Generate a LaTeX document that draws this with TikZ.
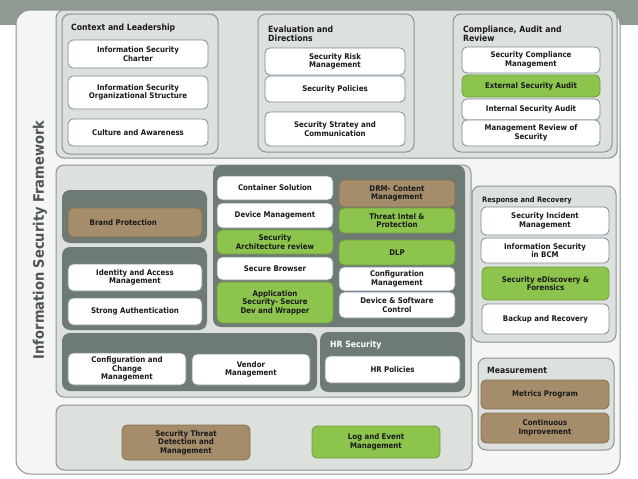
\documentclass[tikz,border=0pt]{standalone}
\usepackage{fontspec}
\setmainfont{DejaVu Sans}
\newfontfamily\cond{DejaVu Sans Condensed}
\usetikzlibrary{fit}
\definecolor{band}{HTML}{8F9A93}
\definecolor{frame}{HTML}{F4F5F4}
\definecolor{panel}{HTML}{DDE1DE}
\definecolor{pline}{HTML}{8A958F}
\definecolor{dark}{HTML}{6E7B74}
\definecolor{bline}{HTML}{7D8A97}
\definecolor{grn}{HTML}{8DC44E}
\definecolor{brn}{HTML}{A58C6A}
\definecolor{txt}{HTML}{1A1A1A}
\tikzset{
 panel/.style={draw=pline, line width=1pt, fill=panel, rounded corners=8pt, inner sep=0pt},
 dk/.style={fill=dark, rounded corners=8pt, inner sep=0pt},
 bx/.style={draw=bline, line width=0.8pt, fill=white, rounded corners=5pt, inner sep=0pt, align=center, font=\cond\bfseries\fontsize{7.8}{8.6}\selectfont, text=txt},
 gb/.style={bx, fill=grn, draw=grn!80!black},
 bb/.style={bx, fill=brn, draw=brn!80!black},
 ttl/.style={anchor=west, font=\cond\bfseries\fontsize{8.6}{9.4}\selectfont, text=txt, align=left, inner sep=0pt},
}
\newcommand\bxx[7]{\node[#6, fit={(#2,#3) (#4,#5)}] (#1) {}; \node[#6, draw=none, fill=none] at (#1.center) (#1t) {#7};}
\begin{document}
\begin{tikzpicture}[x=1pt,y=-1pt]
\useasboundingbox (0,0) rectangle (638,479);
\fill[band] (0,0) rectangle (638,25);
\fill[white] (0,25) rectangle (638,479);
\node[fill=frame, draw=pline, line width=1pt, rounded corners=14pt, fit={(16,10) (620,474)}, inner sep=0] (frame) {};
\node[rotate=90, font=\cond\bfseries\fontsize{14.5}{16}\selectfont, text=dark!70!black] (main) at (40,240) {Information Security Framework};
% top panel
\node[panel, fit={(56,10) (617,158)}] (top) {};
\node[panel, fit={(62,14) (218,154)}] (ctx) {};
\node[ttl] (ctxt) at (71,28) {Context and Leadership};
\bxx{c1}{68}{40}{208}{68}{bx}{Information Security\\Charter}
\bxx{c2}{68}{76}{208}{109}{bx}{Information Security\\Organizational Structure}
\bxx{c3}{68}{119}{208}{146}{bx}{Culture and Awareness}
\node[panel, fit={(258,14) (414,152)}] (ev) {};
\node[ttl] (evt) at (268,34) {Evaluation and\\Directions};
\bxx{e1}{265}{48}{405}{75}{bx}{Security Risk\\Management}
\bxx{e2}{265}{76}{405}{102}{bx}{Security Policies}
\bxx{e3}{265}{112}{405}{146}{bx}{Security Stratey and\\Communication}
\node[panel, fit={(453,14) (612,152)}] (co) {};
\node[ttl] (cot) at (463,34) {Compliance, Audit and\\Review};
\bxx{k1}{462}{47}{600}{73}{bx}{Security Compliance\\Management}
\bxx{k2}{462}{75}{600}{97}{gb}{External Security Audit}
\bxx{k3}{462}{99}{600}{120}{bx}{Internal Security Audit}
\bxx{k4}{462}{120}{600}{146}{bx}{Management Review of\\Security}
% middle panel
\node[panel, fit={(56,165) (471,397)}] (mid) {};
\node[dk, fit={(62,190) (207,243)}] (d1) {};
\bxx{brand}{68}{208}{202}{237}{bb}{\hspace*{-3em}Brand Protection}
\node[dk, fit={(62,247) (207,330)}] (d2) {};
\bxx{iam}{68}{264}{202}{291}{bx}{Identity and Access\\Management}
\bxx{sa}{68}{298}{202}{325}{bx}{Strong Authentication}
\node[dk, fit={(213,165) (465,327)}] (d3) {};
\bxx{m1}{217}{176}{333}{200}{bx}{Container Solution}
\bxx{m2}{217}{203}{333}{228}{bx}{Device Management}
\bxx{m3}{217}{230}{333}{254}{gb}{Security\\Architecture review}
\bxx{m4}{217}{257}{333}{280}{bx}{Secure Browser}
\bxx{m5}{217}{282}{333}{323}{gb}{Application\\Security- Secure\\Dev and Wrapper}
\bxx{n1}{339}{180}{455}{207}{bb}{DRM- Content\\Management}
\bxx{n2}{339}{208}{455}{233}{gb}{Threat  Intel \&\\Protection}
\bxx{n3}{339}{240}{455}{265}{gb}{DLP}
\bxx{n4}{339}{267}{455}{291}{bx}{Configuration\\Management}
\bxx{n5}{339}{292}{455}{318}{bx}{Device \& Software\\Control}
\node[dk, fit={(62,333) (317,391)}] (d4) {};
\bxx{cc}{68}{353}{186}{385}{bx}{Configuration and\\Change\\Management}
\bxx{vm}{192}{354}{310}{385}{bx}{Vendor\\Management}
\node[dk, fit={(320,332) (465,392)}] (d5) {};
\node[ttl, text=white] (hrt) at (330,345) {HR Security};
\bxx{hr}{325}{356}{460}{383}{bx}{HR Policies}
% bottom panel
\node[panel, fit={(56,405) (472,470)}] (bot) {};
\bxx{st}{122}{425}{250}{460}{bb}{Security Threat\\Detection and\\Management}
\bxx{le}{312}{426}{440}{458}{gb}{Log and Event\\Management}
% right
\node[panel, fit={(472,186) (616,342)}] (rr) {};
\node[ttl, font=\cond\bfseries\fontsize{7.4}{8}\selectfont] (rrt) at (482,200) {Response and Recovery};
\bxx{r1}{481}{207}{609}{235}{bx}{Security Incident\\Management}
\bxx{r2}{481}{238}{609}{263}{bx}{Information Security\\in BCM}
\bxx{r3}{482}{267}{609}{300}{gb}{Security eDiscovery \&\\Forensics}
\bxx{r4}{482}{304}{609}{334}{bx}{Backup and Recovery}
\node[panel, fit={(478,358) (614,450)}] (ms) {};
\node[ttl] (mst) at (487,370) {Measurement};
\bxx{s1}{481}{380}{609}{409}{bb}{Metrics Program}
\bxx{s2}{481}{413}{609}{443}{bb}{Continuous\\Improvement}
\end{tikzpicture}
\end{document}
